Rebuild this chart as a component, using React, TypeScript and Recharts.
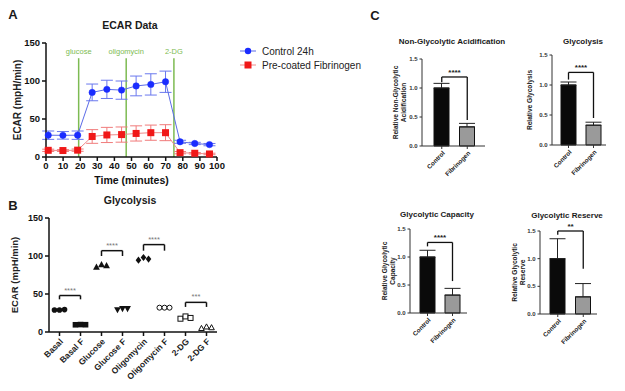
import React from "react";
import {
  Bar,
  BarChart,
  Cell,
  ErrorBar,
  Legend,
  Line,
  LineChart,
  ReferenceLine,
  Scatter,
  ScatterChart,
  XAxis,
  YAxis,
} from "recharts";

const FONT = "'Liberation Sans', Arial, sans-serif";

// ---- Panel A: ECAR time course ----
const timePoints = [1.3, 9.9, 18.5, 27, 35.6, 44.2, 52.7, 61.3, 69.9, 78.4, 87, 95.6];
const controlEcar = [28.7, 28.5, 28.7, 85, 89, 88, 93.5, 95.5, 99, 20, 17.8, 16.3];
const controlSem = [5.5, 5, 5.5, 11, 12, 12, 13, 14, 14, 2, 1.5, 1.5];
const fibEcar = [8.8, 8.5, 9, 27, 29, 29.5, 31, 32, 32, 5.7, 4.9, 4];
const fibSem = [1.5, 1.2, 1.5, 9, 10, 10, 10, 10, 10.5, 1.5, 1, 1];
const timeTicks = [0, 10, 20, 30, 40, 50, 60, 70, 80, 90, 100];
const ecarTicks = [0, 50, 100, 150];
const injections = ["glucose", "oligomycin", "2-DG"];
const injectionTimes = [19.1, 46.9, 74.8];

// ---- Panel B: glycolysis scatter ----
const bCategories = ["Basal", "Basal F", "Glucose", "Glucose F", "Oligomycin", "Oligomycin F", "2-DG", "2-DG F"];
const basal = [29, 29, 29.5];
const basalF = [9.5, 9.8, 9.6];
const glucose = [85.5, 89, 87.5];
const glucoseF = [29, 30.5, 30.5];
const oligomycin = [94.5, 98, 96];
const oligomycinF = [32, 32, 32];
const twoDG = [17.5, 20.5, 18.5];
const twoDGF = [5, 7, 6];
const bGroups = [basal, basalF, glucose, glucoseF, oligomycin, oligomycinF, twoDG, twoDGF];
const replicateJitter = [-0.24, 0, 0.24];
const bBracketPairs = [[0, 1], [2, 3], [4, 5], [6, 7]];
const bBracketTops = [48, 107, 115, 39];
const bBracketLegs = [43, 100, 107, 33];
const bBracketStars = ["****", "****", "****", "***"];

// ---- Panel C: relative bars ----
const cGroups = ["Control", "Fibrinogen"];
const relTicks = [0, 0.5, 1, 1.5];
const nonGlycolytic = [1.0, 0.33];
const nonGlycolyticErr = [0.08, 0.06];
const glycolysisRel = [1.0, 0.33];
const glycolysisRelErr = [0.05, 0.05];
const capacityRel = [1.0, 0.32];
const capacityRelErr = [0.12, 0.12];
const reserveRel = [1.0, 0.31];
const reserveRelErr = [0.36, 0.24];
// bracket: [horizontal level, left leg end, right leg end]
const nonGlycolyticBracket = [1.19, 1.1, 0.45];
const glycolysisBracket = [1.21, 1.09, 0.45];
const capacityBracket = [1.26, 1.19, 0.57];
const reserveBracket = [1.5, 1.43, 0.82];

const markerKinds = ["circle", "square", "tri", "triDown", "diamond", "openCircle", "openSquare", "openTri"];
const barFills = ["#0a0a0a", "#9a9a9a"];

function StackedLabel(props: any) {
  const { viewBox, lines, cx, fontSize } = props;
  if (!viewBox) return null;
  const cy = viewBox.y + viewBox.height / 2;
  const lh = fontSize * 1.2;
  return (
    <text
      x={cx}
      y={cy}
      transform={`rotate(-90 ${cx} ${cy})`}
      textAnchor="middle"
      fontSize={fontSize}
      fontWeight={700}
      fill="#222"
      fontFamily={FONT}
    >
      {lines.map((l: string, i: number) => (
        <tspan key={l} x={cx} dy={i === 0 ? -((lines.length - 1) * lh) / 2 + fontSize * 0.35 : lh}>
          {l}
        </tspan>
      ))}
    </text>
  );
}

function SlantTick(props: any) {
  const { x, y, payload, labels, fontSize, drop } = props;
  const text = labels ? labels[payload.value] : payload.value;
  return (
    <g transform={`translate(${x + 2},${y + (drop ?? 2)})`}>
      <text
        x={0}
        y={0}
        dy="0.35em"
        textAnchor="end"
        transform="rotate(-45)"
        fontSize={fontSize}
        fontWeight={700}
        fill="#222"
        fontFamily={FONT}
      >
        {text}
      </text>
    </g>
  );
}

function groupMarker(kind: string) {
  return (props: any) => {
    const { cx, cy } = props;
    const s = 2.8;
    const ink = "#111";
    switch (kind) {
      case "circle":
        return <circle cx={cx} cy={cy} r={s} fill={ink} />;
      case "square":
        return <rect x={cx - s} y={cy - s} width={2 * s} height={2 * s} fill={ink} />;
      case "tri":
        return <path d={`M${cx},${cy - s - 0.6}L${cx + s + 0.6},${cy + s}L${cx - s - 0.6},${cy + s}Z`} fill={ink} />;
      case "triDown":
        return <path d={`M${cx},${cy + s + 0.6}L${cx + s + 0.6},${cy - s}L${cx - s - 0.6},${cy - s}Z`} fill={ink} />;
      case "diamond":
        return <path d={`M${cx},${cy - s - 0.8}L${cx + s},${cy}L${cx},${cy + s + 0.8}L${cx - s},${cy}Z`} fill={ink} />;
      case "openCircle":
        return <circle cx={cx} cy={cy} r={s - 0.3} fill="#fff" stroke={ink} strokeWidth={1} />;
      case "openSquare":
        return <rect x={cx - s + 0.3} y={cy - s + 0.3} width={2 * s - 0.6} height={2 * s - 0.6} fill="#fff" stroke={ink} strokeWidth={1} />;
      default:
        return (
          <path
            d={`M${cx},${cy - s}L${cx + s},${cy + s - 0.5}L${cx - s},${cy + s - 0.5}Z`}
            fill="#fff"
            stroke={ink}
            strokeWidth={1}
          />
        );
    }
  };
}

function Caption({ x, y, size, text, weight = 700 }: any) {
  return (
    <div
      style={{
        position: "absolute",
        left: x,
        top: y,
        transform: "translate(-50%, -50%)",
        fontSize: size,
        fontWeight: weight,
        color: "#1a1a1a",
        whiteSpace: "nowrap",
        fontFamily: FONT,
        lineHeight: 1,
      }}
    >
      {text}
    </div>
  );
}

function LegendA(props: any) {
  const items = props.payload || [];
  return (
    <div style={{ fontFamily: FONT, fontSize: 10, color: "#222" }}>
      {items.map((it: any, i: number) => (
        <div key={it.value} style={{ display: "flex", alignItems: "center", height: 14 }}>
          <svg width={18} height={10} style={{ marginRight: 4 }}>
            <line x1={0} y1={5} x2={16} y2={5} stroke={i === 0 ? "#5b6be8" : "#f08a8a"} strokeWidth={1} />
            {i === 0 ? (
              <circle cx={8} cy={5} r={3.2} fill="#1a2cff" />
            ) : (
              <rect x={4.5} y={1.5} width={7} height={7} fill="#f01818" />
            )}
          </svg>
          <span>{it.value}</span>
        </div>
      ))}
    </div>
  );
}

function PanelA() {
  const data = timePoints.map((t, i) => ({
    t,
    control: controlEcar[i],
    controlErr: controlSem[i],
    fib: fibEcar[i],
    fibErr: fibSem[i],
  }));
  return (
    <div style={{ position: "absolute", left: 0, top: 0 }}>
      <LineChart width={370} height={200} data={data} margin={{ top: 43, right: 153, left: 6, bottom: 0 }}>
        <XAxis
          type="number"
          dataKey="t"
          domain={[0, 100]}
          ticks={timeTicks}
          height={43}
          tickSize={4}
          tickMargin={1}
          stroke="#111"
          strokeWidth={1.5}
          tick={{ fontSize: 9.5, fontWeight: 700, fill: "#111", fontFamily: FONT }}
          label={{
            value: "Time (minutes)",
            position: "insideBottom",
            offset: 16,
            style: { fontSize: 10.5, fontWeight: 700, fill: "#111", fontFamily: FONT },
          }}
        />
        <YAxis
          domain={[0, 150]}
          ticks={ecarTicks}
          width={40}
          tickSize={4}
          tickMargin={2}
          stroke="#111"
          strokeWidth={1.5}
          tick={{ fontSize: 9.5, fontWeight: 700, fill: "#111", fontFamily: FONT }}
          label={<StackedLabel lines={["ECAR (mpH/min)"]} cx={17} fontSize={10} />}
        />
        {injections.map((name, i) => (
          <ReferenceLine
            key={name}
            segment={[
              { x: injectionTimes[i], y: 0 },
              { x: injectionTimes[i], y: 130 },
            ]}
            stroke="#7dbb52"
            strokeWidth={1.5}
            label={{ value: name, position: "top", fill: "#7dbb52", fontSize: 7.5, offset: 4, fontFamily: FONT }}
          />
        ))}
        <Line
          dataKey="control"
          name="Control 24h"
          stroke="#5b6be8"
          strokeWidth={1}
          isAnimationActive={false}
          dot={{ r: 3.2, fill: "#1a2cff", stroke: "#1a2cff", strokeWidth: 0.5 }}
        >
          <ErrorBar dataKey="controlErr" width={6} stroke="#6a78ee" strokeWidth={1} direction="y" />
        </Line>
        <Line
          dataKey="fib"
          name="Pre-coated Fibrinogen"
          stroke="#f08a8a"
          strokeWidth={1}
          isAnimationActive={false}
          dot={(p: any) => (
            <rect key={`fd${p.index}`} x={p.cx - 3.5} y={p.cy - 3.5} width={7} height={7} fill="#f01818" />
          )}
        >
          <ErrorBar dataKey="fibErr" width={6} stroke="#f07b7b" strokeWidth={1} direction="y" />
        </Line>
        <Legend
          layout="vertical"
          align="center"
          verticalAlign="middle"
          wrapperStyle={{ left: 240, top: 44, width: 130 }}
          content={<LegendA />}
        />
      </LineChart>
    </div>
  );
}

function PanelB() {
  return (
    <div style={{ position: "absolute", left: 0, top: 190 }}>
      <ScatterChart width={240} height={200} margin={{ top: 28, right: 23, left: 8, bottom: 0 }}>
        <XAxis
          type="number"
          dataKey="x"
          domain={[-0.5, 7.5]}
          ticks={bCategories.map((_, i) => i)}
          interval={0}
          height={58}
          tickSize={4}
          stroke="#111"
          strokeWidth={1.5}
          tick={<SlantTick labels={bCategories} fontSize={8.5} drop={2} />}
        />
        <YAxis
          type="number"
          dataKey="y"
          domain={[0, 150]}
          ticks={ecarTicks}
          width={41}
          tickSize={4}
          tickMargin={2}
          stroke="#111"
          strokeWidth={1.5}
          tick={{ fontSize: 9, fontWeight: 700, fill: "#111", fontFamily: FONT }}
          label={<StackedLabel lines={["ECAR (mpH/min)"]} cx={15} fontSize={9.5} />}
        />
        {bBracketPairs.map(([a, b], i) => (
          <ReferenceLine
            key={`h${i}`}
            segment={[
              { x: a, y: bBracketTops[i] },
              { x: b, y: bBracketTops[i] },
            ]}
            stroke="#111"
            strokeWidth={1.5}
            label={{ value: bBracketStars[i], position: "top", fill: "#777", fontSize: 7.5, offset: 3, fontFamily: FONT }}
          />
        ))}
        {bBracketPairs.map(([a, b], i) =>
          [a, b].map((x) => (
            <ReferenceLine
              key={`l${i}-${x}`}
              segment={[
                { x, y: bBracketTops[i] },
                { x, y: bBracketLegs[i] },
              ]}
              stroke="#111"
              strokeWidth={1.5}
            />
          ))
        )}
        {bGroups.map((vals, i) => (
          <Scatter
            key={bCategories[i]}
            name={bCategories[i]}
            data={vals.map((v, j) => ({ x: i + replicateJitter[j], y: v }))}
            shape={groupMarker(markerKinds[i])}
            isAnimationActive={false}
          />
        ))}
      </ScatterChart>
    </div>
  );
}

function BarPanel(p: any) {
  const data = cGroups.map((g, i) => ({ group: g, value: p.values[i], err: [0, p.errs[i]] }));
  const [level, leftEnd, rightEnd] = p.bracket;
  return (
    <div style={{ position: "absolute", left: p.left, top: p.top }}>
      <BarChart width={p.width} height={p.height} data={data} margin={p.margin}>
        <XAxis
          dataKey="group"
          height={p.xHeight}
          interval={0}
          padding={{ left: p.padLeft, right: p.padRight }}
          tickSize={3}
          stroke="#333"
          tick={<SlantTick fontSize={6.3} drop={1} />}
        />
        <YAxis
          domain={[0, 1.5]}
          ticks={relTicks}
          width={20}
          tickSize={2.5}
          tickMargin={2}
          stroke="#333"
          tickFormatter={(v: number) => v.toFixed(1)}
          tick={{ fontSize: 6, fontWeight: 700, fill: "#333", fontFamily: FONT }}
          label={<StackedLabel lines={p.yLines} cx={p.yLabelX} fontSize={6.6} />}
        />
        <Bar dataKey="value" barSize={15} stroke="#111" strokeWidth={1} isAnimationActive={false}>
          {data.map((d, i) => (
            <Cell key={d.group} fill={barFills[i]} />
          ))}
          <ErrorBar dataKey="err" width={8} stroke="#222" strokeWidth={1} direction="y" />
        </Bar>
        <ReferenceLine
          segment={[
            { x: cGroups[0], y: level },
            { x: cGroups[1], y: level },
          ]}
          stroke="#111"
          strokeWidth={1.3}
          ifOverflow="visible"
          label={{ value: p.stars, position: "top", fill: "#222", fontSize: 8, offset: 2, fontFamily: FONT, fontWeight: 700 }}
        />
        <ReferenceLine
          segment={[
            { x: cGroups[0], y: level },
            { x: cGroups[0], y: leftEnd },
          ]}
          stroke="#111"
          strokeWidth={1.3}
          ifOverflow="visible"
        />
        <ReferenceLine
          segment={[
            { x: cGroups[1], y: level },
            { x: cGroups[1], y: rightEnd },
          ]}
          stroke="#111"
          strokeWidth={1.3}
          ifOverflow="visible"
        />
      </BarChart>
    </div>
  );
}

export default function App() {
  return (
    <div
      style={{
        position: "absolute",
        left: 0,
        top: 0,
        width: 625,
        height: 391,
        background: "#fff",
        overflow: "hidden",
        fontFamily: FONT,
      }}
    >
      <PanelA />
      <PanelB />
      <BarPanel
        left={380}
        top={30}
        width={110}
        height={175}
        margin={{ top: 29, right: 5, left: 22, bottom: 0 }}
        xHeight={59}
        padLeft={7}
        padRight={5}
        values={nonGlycolytic}
        errs={nonGlycolyticErr}
        bracket={nonGlycolyticBracket}
        stars="****"
        yLines={["Relative Non-Glycolytic", "Acidification"]}
        yLabelX={19.5}
      />
      <BarPanel
        left={510}
        top={30}
        width={105}
        height={175}
        margin={{ top: 25, right: 9, left: 22, bottom: 0 }}
        xHeight={60}
        padLeft={4}
        padRight={0}
        values={glycolysisRel}
        errs={glycolysisRelErr}
        bracket={glycolysisBracket}
        stars="****"
        yLines={["Relative Glycolysis"]}
        yLabelX={20}
      />
      <BarPanel
        left={370}
        top={200}
        width={100}
        height={170}
        margin={{ top: 29, right: 3, left: 20, bottom: 0 }}
        xHeight={57}
        padLeft={5}
        padRight={2}
        values={capacityRel}
        errs={capacityRelErr}
        bracket={capacityBracket}
        stars="****"
        yLines={["Relative Glycolytic", "Capacity"]}
        yLabelX={19}
      />
      <BarPanel
        left={500}
        top={200}
        width={105}
        height={170}
        margin={{ top: 31, right: 8, left: 20, bottom: 0 }}
        xHeight={56}
        padLeft={5}
        padRight={1}
        values={reserveRel}
        errs={reserveRelErr}
        bracket={reserveBracket}
        stars="**"
        yLines={["Relative Glycolytic", "Reserve"]}
        yLabelX={19}
      />
      <Caption x={13} y={14} size={13} text="A" />
      <Caption x={130} y={25} size={10.5} text="ECAR Data" />
      <Caption x={13} y={205} size={13} text="B" />
      <Caption x={130} y={200} size={10.5} text="Glycolysis" />
      <Caption x={375} y={15} size={13} text="C" />
      <Caption x={452} y={42} size={8} text="Non-Glycolytic Acidification" />
      <Caption x={583} y={42} size={8} text="Glycolysis" />
      <Caption x={437} y={215} size={8} text="Glycolytic Capacity" />
      <Caption x={567} y={216} size={8} text="Glycolytic Reserve" />
    </div>
  );
}
